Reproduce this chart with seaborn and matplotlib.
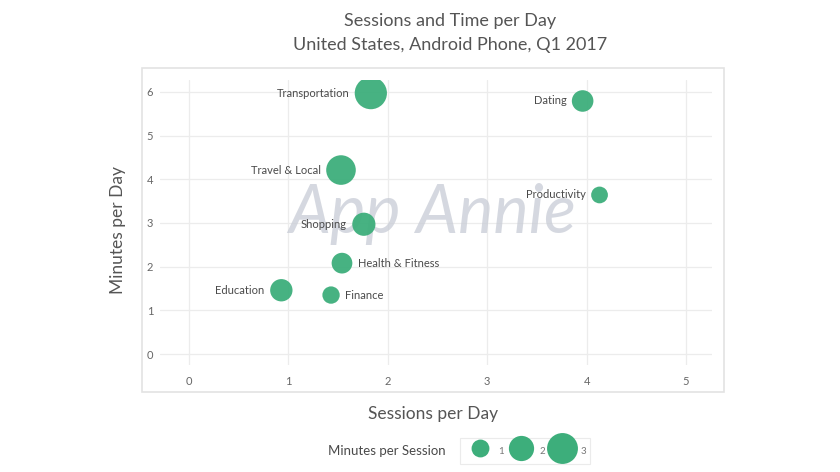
import pandas as pd
import matplotlib.pyplot as plt
import seaborn as sns
from matplotlib.lines import Line2D
from matplotlib.patches import Rectangle

# values
categories = ['Transportation', 'Dating', 'Travel & Local', 'Productivity',
              'Shopping', 'Health & Fitness', 'Education', 'Finance']
sessions_per_day = [1.83, 3.96, 1.53, 4.13, 1.76, 1.54, 0.93, 1.43]
minutes_per_day = [5.97, 5.79, 4.21, 3.64, 2.97, 2.08, 1.46, 1.35]
label_side = ['left', 'left', 'left', 'left', 'left', 'right', 'left', 'right']
legend_values = [1, 2, 3]
x_ticks = [0, 1, 2, 3, 4, 5]
y_ticks = [0, 1, 2, 3, 4, 5, 6]

df = pd.DataFrame({'cat': categories, 'sessions': sessions_per_day,
                   'minutes': minutes_per_day, 'side': label_side})
df['mps'] = df['minutes'] / df['sessions']

green = '#3dae7b'
txt = '#4a4a4a'
k = 165  # marker area (pt^2) per minute-per-session

sns.set_style('white')
plt.rcParams['font.family'] = ['Lato', 'DejaVu Sans']

fig = plt.figure(figsize=(8.4, 4.72), dpi=100)

# light outer frame around the plot area
fig.patches.append(Rectangle((0.169, 0.1695), 0.693, 0.6865, transform=fig.transFigure,
                             fill=False, edgecolor='#e3e3e3', linewidth=1.2))

ax = fig.add_axes([0.1905, 0.2267, 0.657, 0.6038])
ax.grid(True, color='#ececec', linewidth=0.9)
ax.set_axisbelow(True)

# watermark
ax.text(2.45, 3.2, 'App Annie', fontsize=48, style='italic', color='#c8ccd6',
        ha='center', va='center', zorder=1, alpha=0.75)

sns.scatterplot(data=df, x='sessions', y='minutes', size='mps',
                sizes=(0, k * 4), size_norm=(0, 4), color=green,
                edgecolor='none', alpha=0.95, legend=False, ax=ax, zorder=3)

for _, r in df.iterrows():
    rad = (k * r['mps']) ** 0.5 / 2
    off = rad + 4
    if r['side'] == 'left':
        ax.annotate(r['cat'], (r['sessions'], r['minutes']), xytext=(-off, 0),
                    textcoords='offset points', ha='right', va='center',
                    fontsize=8, color=txt, zorder=4)
    else:
        ax.annotate(r['cat'], (r['sessions'], r['minutes']), xytext=(off, 0),
                    textcoords='offset points', ha='left', va='center',
                    fontsize=8, color=txt, zorder=4)

ax.set_xlim(-0.29, 5.26)
ax.set_ylim(-0.25, 6.27)
ax.set_xticks(x_ticks)
ax.set_yticks(y_ticks)
for s in ax.spines.values():
    s.set_visible(False)
ax.tick_params(axis='both', labelsize=8, colors='#666666', length=3, width=0.6)
ax.tick_params(axis='y', pad=2)
ax.tick_params(axis='x', pad=8, length=0)
ax.set_xlabel('')
ax.set_ylabel('')

fig.text(0.536, 0.955, 'Sessions and Time per Day', ha='center', va='center',
         fontsize=13, color='#555555')
fig.text(0.536, 0.905, 'United States, Android Phone, Q1 2017', ha='center', va='center',
         fontsize=13, color='#555555')
fig.text(0.141, 0.512, 'Minutes per Day', rotation=90, ha='center', va='center',
         fontsize=12.5, color='#555555')
fig.text(0.515, 0.123, 'Sessions per Day', ha='center', va='center',
         fontsize=12.5, color='#555555')
fig.text(0.53, 0.045, 'Minutes per Session', ha='right', va='center',
         fontsize=9.5, color=txt)

handles = [Line2D([], [], marker='o', linestyle='none', color=green,
                  markersize=(k * v) ** 0.5, markeredgewidth=0) for v in legend_values]
leg = fig.legend(handles, [str(v) for v in legend_values], loc='center left',
                 bbox_to_anchor=(0.542, 0.045), ncol=3, frameon=True, fontsize=7,
                 handletextpad=0.25, columnspacing=0.1, borderpad=0.35,
                 handlelength=3.3, handleheight=2.6, labelcolor='#777777')
leg.get_frame().set_edgecolor('#e6e6e6')
leg.get_frame().set_linewidth(0.8)
leg.get_frame().set_boxstyle('square', pad=0)

fig.savefig('out.png', dpi=100)
